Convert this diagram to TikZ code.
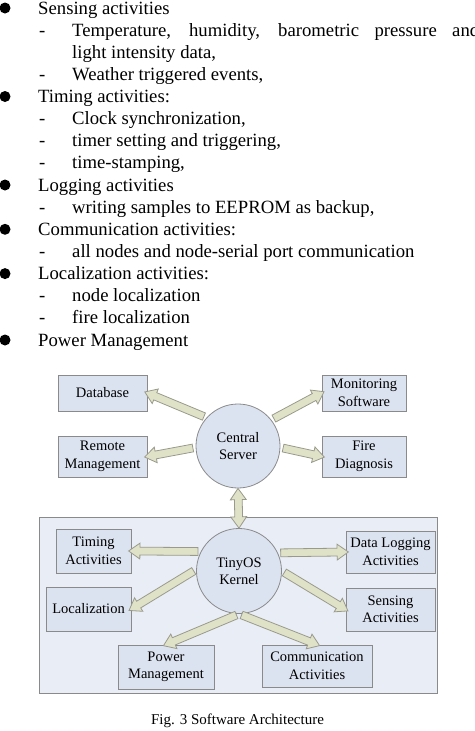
\documentclass[tikz,border=0pt]{standalone}
\usepackage{fontspec}
\setmainfont{Liberation Serif}
\usetikzlibrary{shapes.arrows,calc}
\definecolor{boxfill}{HTML}{DCE3F0}
\definecolor{boxline}{HTML}{8A8A8A}
\definecolor{outerfill}{HTML}{E8EDF6}
\definecolor{arrfill}{HTML}{E0E2C8}
\definecolor{arrline}{HTML}{9A9A8C}
\tikzset{
  listtext/.style={anchor=base west, inner sep=0, font=\fontsize{18.7}{22}\selectfont},
  bulletdot/.style={circle, fill=black, inner sep=0, minimum size=11pt},
  box/.style={draw=boxline, fill=boxfill, line width=0.8pt, align=center,
    font=\fontsize{14.5}{17.5}\selectfont, inner sep=0},
  hub/.style={circle, draw=boxline, fill=boxfill, line width=0.8pt, align=center,
    font=\fontsize{14.5}{17}\selectfont, inner sep=0, minimum size=84pt},
  fatbase/.style={midway, sloped, allow upside down, draw=arrline, fill=arrfill,
    line width=0.8pt, inner sep=3.5pt},
  fatone/.style={fatbase, single arrow, single arrow head extend=4pt, single arrow tip angle=70},
  fattwo/.style={fatbase, double arrow, double arrow head extend=4pt, double arrow tip angle=70}
}
% #1 style, #2 name, #3 from, #4 to
\newcommand\fatarrow[4][fatone]{%
  \path let \p1=#3, \p2=#4, \n1={veclen(\x2-\x1,\y2-\y1)} in
    (\p1) -- (\p2) node[#1, minimum height=\n1] (#2) {};}
\begin{document}
\begin{tikzpicture}[x=1pt,y=1pt]
\useasboundingbox (0,0) rectangle (474,-731);
% ---- list ----
\node[bulletdot] (b1) at (5,-8) {};
\node[listtext] (l1) at (38,-14) {Sensing activities};
\node[listtext] (d1) at (39,-36.1) {-};
\node[listtext] (l2) at (72,-36.1) {\makebox[407pt][s]{Temperature, humidity, barometric pressure and}};
\node[listtext] (l3) at (72,-58.3) {light intensity data,};
\node[listtext] (d2) at (39,-80.4) {-};
\node[listtext] (l4) at (72,-80.4) {Weather triggered events,};
\node[bulletdot] (b2) at (5,-96.5) {};
\node[listtext] (l5) at (38,-102.5) {Timing activities:};
\node[listtext] (d3) at (39,-124.7) {-};
\node[listtext] (l6) at (72,-124.7) {Clock synchronization,};
\node[listtext] (d4) at (39,-146.8) {-};
\node[listtext] (l7) at (72,-146.8) {timer setting and triggering,};
\node[listtext] (d5) at (39,-168.9) {-};
\node[listtext] (l8) at (72,-168.9) {time-stamping,};
\node[bulletdot] (b3) at (5,-185) {};
\node[listtext] (l9) at (38,-191) {Logging activities};
\node[listtext] (d6) at (39,-213.2) {-};
\node[listtext] (l10) at (72,-213.2) {writing samples to EEPROM as backup,};
\node[bulletdot] (b4) at (5,-229.3) {};
\node[listtext] (l11) at (38,-235.3) {Communication activities:};
\node[listtext] (d7) at (39,-257.4) {-};
\node[listtext] (l12) at (72,-257.4) {all nodes and node-serial port communication};
\node[bulletdot] (b5) at (5,-273.6) {};
\node[listtext] (l13) at (38,-279.6) {Localization activities:};
\node[listtext] (d8) at (39,-301.7) {-};
\node[listtext] (l14) at (72,-301.7) {node localization};
\node[listtext] (d9) at (39,-323.8) {-};
\node[listtext] (l15) at (72,-323.8) {fire localization};
\node[bulletdot] (b6) at (5,-340) {};
\node[listtext] (l16) at (38,-346) {Power Management};
% ---- server part ----
\node[box, minimum width=89pt, minimum height=36pt] (db) at (102.5,-393) {Database};
\node[box, minimum width=84pt, minimum height=36pt] (ms) at (364,-393) {Monitoring\\Software};
\node[box, minimum width=89pt, minimum height=41pt] (rm) at (102.5,-456.5) {Remote\\Management};
\node[box, minimum width=84pt, minimum height=41pt] (fd) at (364,-456.5) {Fire\\Diagnosis};
\node[hub] (cs) at (238,-446) {Central\\Server};
% ---- kernel part ----
\node[draw=boxline, fill=outerfill, line width=0.8pt, minimum width=398pt, minimum height=176pt, inner sep=0] (outer) at (238,-605) {};
\node[box, minimum width=75pt, minimum height=44pt] (ta) at (93.5,-551) {Timing\\Activities};
\node[box, minimum width=85pt, minimum height=44pt] (loc) at (88.5,-609) {Localization};
\node[box, minimum width=89pt, minimum height=42pt] (dl) at (390.5,-552) {Data Logging\\Activities};
\node[box, minimum width=89pt, minimum height=43pt] (se) at (390.5,-609.5) {Sensing\\Activities};
\node[box, minimum width=96pt, minimum height=44pt] (pm) at (166,-667) {Power\\Management};
\node[box, minimum width=110pt, minimum height=42pt] (cm) at (317,-666) {Communication\\Activities};
\node[hub, minimum size=85pt] (tk) at (239,-571) {TinyOS\\Kernel};
% ---- arrows ----
\fatarrow{a1}{(cs.138)}{(db.east)}
\fatarrow{a2}{(cs.38)}{(ms.west)}
\fatarrow{a3}{(cs.182)}{(rm.east)}
\fatarrow{a4}{(cs.358)}{(fd.west)}
\fatarrow[fattwo]{a5}{(cs.south)}{(tk.north)}
\fatarrow{a6}{(tk.153)}{(ta.east)}
\fatarrow{a7}{(tk.25)}{(dl.west)}
\fatarrow{a8}{(tk.178)}{(loc.east)}
\fatarrow{a9}{(tk.0)}{(se.west)}
\fatarrow{a10}{(tk.south)}{(pm.north)}
\fatarrow{a11}{(tk.south)}{(cm.north)}
% ---- caption ----
\node[anchor=base, inner sep=0, font=\fontsize{15}{18}\selectfont] (cap) at (237.5,-724) {Fig. 3 Software Architecture};
\end{tikzpicture}
\end{document}
